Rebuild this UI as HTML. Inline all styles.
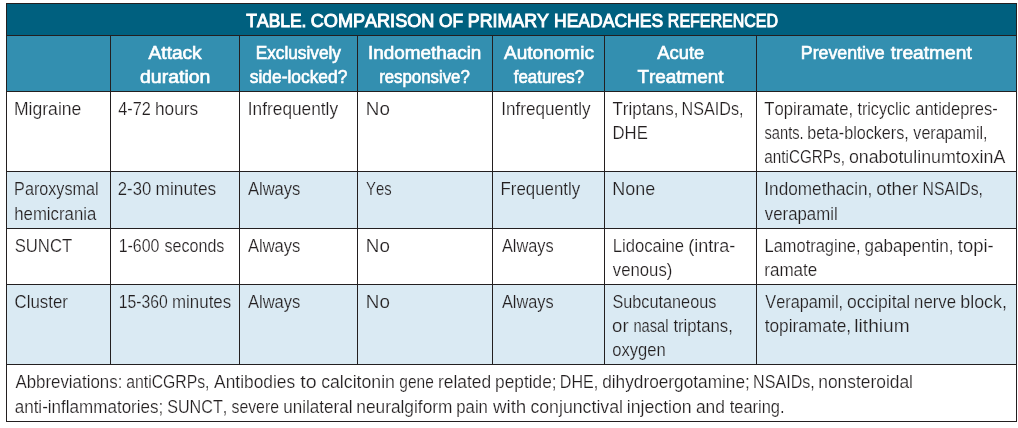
<!DOCTYPE html>
<html lang="en"><head><meta charset="utf-8"><title>Table. Comparison of primary headaches referenced</title>
<style>
html,body{margin:0;padding:0;background:#fff;}
body{width:1018px;height:428px;position:relative;overflow:hidden;font-family:"Liberation Sans",sans-serif;font-kerning:none;}
.bg{position:absolute;}
.ln{position:absolute;background:#231f20;}
.w{position:absolute;white-space:pre;transform-origin:0 0;line-height:24px;height:24px;display:block;}
.b{font-weight:bold;color:#fff;}
.s{font-weight:normal;color:#fff;-webkit-text-stroke:0.62px #fff;}
.t{font-weight:normal;color:#fff;-webkit-text-stroke:0.95px #fff;}
.r{font-weight:normal;color:#231f20;}
.ew{-webkit-text-stroke:0.2px #fff;}
.el{-webkit-text-stroke:0.2px #daeaf3;}

</style></head><body>
<div class="bg" style="left:6px;top:3px;width:1011px;height:32px;background:#00607f"></div>
<div class="bg" style="left:6px;top:35px;width:1011px;height:56px;background:#338fb0"></div>
<div class="bg" style="left:6px;top:171px;width:1011px;height:57px;background:#daeaf3"></div>
<div class="bg" style="left:6px;top:284px;width:1011px;height:80px;background:#daeaf3"></div>
<div class="ln" style="left:6px;top:3px;width:1011px;height:1px"></div>
<div class="ln" style="left:6px;top:35px;width:1011px;height:1px"></div>
<div class="ln" style="left:6px;top:91px;width:1011px;height:1px"></div>
<div class="ln" style="left:6px;top:171px;width:1011px;height:1px"></div>
<div class="ln" style="left:6px;top:228px;width:1011px;height:1px"></div>
<div class="ln" style="left:6px;top:284px;width:1011px;height:1px"></div>
<div class="ln" style="left:6px;top:364px;width:1011px;height:1px"></div>
<div class="ln" style="left:6px;top:421px;width:1011px;height:1px"></div>
<div class="ln" style="left:6px;top:3px;width:1px;height:419px"></div>
<div class="ln" style="left:110px;top:35px;width:1px;height:330px"></div>
<div class="ln" style="left:239px;top:35px;width:1px;height:330px"></div>
<div class="ln" style="left:357px;top:35px;width:1px;height:330px"></div>
<div class="ln" style="left:492px;top:35px;width:1px;height:330px"></div>
<div class="ln" style="left:604px;top:35px;width:1px;height:330px"></div>
<div class="ln" style="left:756px;top:35px;width:1px;height:330px"></div>
<div class="ln" style="left:1016px;top:3px;width:1px;height:419px"></div>
<span class="w t" style="left:246px;top:8px;font-size:18px;transform:translate(0.37px,0.50px) scaleX(0.9676)">TABLE.</span>
<span class="w t" style="left:310px;top:8px;font-size:18px;transform:translate(0.81px,0.50px) scaleX(1.0039)">COMPARISON</span>
<span class="w t" style="left:438px;top:8px;font-size:18px;transform:translate(0.94px,0.50px) scaleX(0.9642)">OF</span>
<span class="w t" style="left:467px;top:8px;font-size:18px;transform:translate(0.81px,0.50px) scaleX(0.9890)">PRIMARY</span>
<span class="w t" style="left:554px;top:8px;font-size:18px;transform:translate(0.02px,0.50px) scaleX(0.9736)">HEADACHES</span>
<span class="w t" style="left:667px;top:8px;font-size:18px;transform:translate(0.86px,0.50px) scaleX(0.8889)">REFERENCED</span>
<span class="w s" style="left:148px;top:41px;font-size:17.6px;transform:translate(0.60px,0.10px) scaleX(1.0844)">Attack</span>
<span class="w s" style="left:140px;top:64px;font-size:17.6px;transform:translate(0.03px,0.50px) scaleX(1.1068)">duration</span>
<span class="w s" style="left:255px;top:41px;font-size:17.6px;transform:translate(0.69px,0.10px) scaleX(0.9798)">Exclusively</span>
<span class="w s" style="left:249px;top:64px;font-size:17.6px;transform:translate(0.82px,0.50px) scaleX(0.9869)">side-locked?</span>
<span class="w s" style="left:367px;top:41px;font-size:17.6px;transform:translate(0.89px,0.10px) scaleX(1.0742)">Indomethacin</span>
<span class="w s" style="left:379px;top:64px;font-size:17.6px;transform:translate(0.18px,0.50px) scaleX(0.9552)">responsive?</span>
<span class="w s" style="left:504px;top:41px;font-size:17.6px;transform:translate(0.05px,0.10px) scaleX(1.0808)">Autonomic</span>
<span class="w s" style="left:513px;top:64px;font-size:17.6px;transform:translate(0.81px,0.50px) scaleX(0.9576)">features?</span>
<span class="w s" style="left:657px;top:41px;font-size:17.6px;transform:translate(0.29px,0.10px) scaleX(1.0433)">Acute</span>
<span class="w s" style="left:637px;top:64px;font-size:17.6px;transform:translate(0.51px,0.50px) scaleX(1.0735)">Treatment</span>
<span class="w s" style="left:800px;top:41px;font-size:17.6px;transform:translate(0.86px,0.10px) scaleX(1.0080)">Preventive</span>
<span class="w s" style="left:890px;top:41px;font-size:17.6px;transform:translate(0.65px,0.10px) scaleX(1.0916)">treatment</span>
<span class="w r ew" style="left:13px;top:97px;font-size:18.4px;transform:translate(0.96px,0.00px) scaleX(0.9554)">Migraine</span>
<span class="w r ew" style="left:118px;top:97px;font-size:18.4px;transform:translate(0.29px,0.00px) scaleX(0.8858)">4-72</span>
<span class="w r ew" style="left:154px;top:97px;font-size:18.4px;transform:translate(0.96px,0.00px) scaleX(0.9399)">hours</span>
<span class="w r ew" style="left:247px;top:97px;font-size:18.4px;transform:translate(0.81px,0.00px) scaleX(0.9393)">Infrequently</span>
<span class="w r ew" style="left:365px;top:97px;font-size:18.4px;transform:translate(0.86px,0.00px) scaleX(1.0219)">No</span>
<span class="w r ew" style="left:501px;top:97px;font-size:18.4px;transform:translate(0.33px,0.00px) scaleX(0.9287)">Infrequently</span>
<span class="w r ew" style="left:612px;top:97px;font-size:18.4px;transform:translate(0.53px,0.00px) scaleX(0.9198)">Triptans,</span>
<span class="w r ew" style="left:681px;top:97px;font-size:18.4px;transform:translate(0.59px,0.00px) scaleX(0.8782)">NSAIDs,</span>
<span class="w r ew" style="left:612px;top:121px;font-size:18.4px;transform:translate(0.54px,0.00px) scaleX(0.9079)">DHE</span>
<span class="w r ew" style="left:764px;top:97px;font-size:18.4px;transform:translate(0.34px,0.00px) scaleX(0.9040)">Topiramate,</span>
<span class="w r ew" style="left:857px;top:97px;font-size:18.4px;transform:translate(0.42px,0.00px) scaleX(0.8763)">tricyclic</span>
<span class="w r ew" style="left:915px;top:97px;font-size:18.4px;transform:translate(0.21px,0.00px) scaleX(0.8975)">antidepres-</span>
<span class="w r ew" style="left:764px;top:121px;font-size:18.4px;transform:translate(0.51px,0.00px) scaleX(0.7977)">sants.</span>
<span class="w r ew" style="left:807px;top:121px;font-size:18.4px;transform:translate(0.37px,0.00px) scaleX(0.8776)">beta-blockers,</span>
<span class="w r ew" style="left:913px;top:121px;font-size:18.4px;transform:translate(0.36px,0.00px) scaleX(0.8739)">verapamil,</span>
<span class="w r ew" style="left:764px;top:145px;font-size:18.4px;transform:translate(0.27px,0.25px) scaleX(0.8307)">antiCGRPs,</span>
<span class="w r ew" style="left:848px;top:145px;font-size:18.4px;transform:translate(0.91px,0.25px) scaleX(0.9682)">onabotulinumtoxinA</span>
<span class="w r el" style="left:14px;top:177px;font-size:18.4px;transform:translate(0.08px,0.00px) scaleX(0.8801)">Paroxysmal</span>
<span class="w r el" style="left:14px;top:201px;font-size:18.4px;transform:translate(0.24px,0.50px) scaleX(0.9122)">hemicrania</span>
<span class="w r el" style="left:117px;top:177px;font-size:18.4px;transform:translate(0.82px,0.00px) scaleX(0.9076)">2-30</span>
<span class="w r el" style="left:155px;top:177px;font-size:18.4px;transform:translate(0.50px,0.00px) scaleX(0.9424)">minutes</span>
<span class="w r el" style="left:247px;top:177px;font-size:18.4px;transform:translate(0.88px,0.00px) scaleX(0.9019)">Always</span>
<span class="w r el" style="left:366px;top:177px;font-size:18.4px;transform:translate(0.09px,0.00px) scaleX(0.8049)">Yes</span>
<span class="w r el" style="left:500px;top:177px;font-size:18.4px;transform:translate(0.53px,0.00px) scaleX(0.9156)">Frequently</span>
<span class="w r el" style="left:612px;top:177px;font-size:18.4px;transform:translate(0.18px,0.00px) scaleX(0.9768)">None</span>
<span class="w r el" style="left:764px;top:177px;font-size:18.4px;transform:translate(0.32px,0.00px) scaleX(0.9350)">Indomethacin,</span>
<span class="w r el" style="left:876px;top:177px;font-size:18.4px;transform:translate(0.13px,0.00px) scaleX(1.0022)">other</span>
<span class="w r el" style="left:922px;top:177px;font-size:18.4px;transform:translate(0.62px,0.00px) scaleX(0.8559)">NSAIDs,</span>
<span class="w r el" style="left:764px;top:201px;font-size:18.4px;transform:translate(0.85px,0.50px) scaleX(0.9135)">verapamil</span>
<span class="w r ew" style="left:14px;top:233px;font-size:18.4px;transform:translate(0.65px,0.75px) scaleX(0.9085)">SUNCT</span>
<span class="w r ew" style="left:118px;top:233px;font-size:18.4px;transform:translate(0.70px,0.75px) scaleX(0.8661)">1-600</span>
<span class="w r ew" style="left:164px;top:233px;font-size:18.4px;transform:translate(0.46px,0.75px) scaleX(0.8748)">seconds</span>
<span class="w r ew" style="left:247px;top:233px;font-size:18.4px;transform:translate(0.88px,0.75px) scaleX(0.9019)">Always</span>
<span class="w r ew" style="left:365px;top:233px;font-size:18.4px;transform:translate(0.86px,0.75px) scaleX(1.0219)">No</span>
<span class="w r ew" style="left:501px;top:233px;font-size:18.4px;transform:translate(0.88px,0.75px) scaleX(0.8888)">Always</span>
<span class="w r ew" style="left:612px;top:233px;font-size:18.4px;transform:translate(0.74px,0.75px) scaleX(0.9056)">Lidocaine</span>
<span class="w r ew" style="left:688px;top:233px;font-size:18.4px;transform:translate(0.28px,0.75px) scaleX(0.9806)">(intra-</span>
<span class="w r ew" style="left:612px;top:257px;font-size:18.4px;transform:translate(0.85px,0.50px) scaleX(0.9094)">venous)</span>
<span class="w r ew" style="left:764px;top:233px;font-size:18.4px;transform:translate(0.56px,0.75px) scaleX(0.8939)">Lamotragine,</span>
<span class="w r ew" style="left:864px;top:233px;font-size:18.4px;transform:translate(0.44px,0.75px) scaleX(0.9273)">gabapentin,</span>
<span class="w r ew" style="left:957px;top:233px;font-size:18.4px;transform:translate(0.87px,0.75px) scaleX(1.0001)">topi-</span>
<span class="w r ew" style="left:764px;top:257px;font-size:18.4px;transform:translate(0.27px,0.50px) scaleX(0.9268)">ramate</span>
<span class="w r el" style="left:14px;top:290px;font-size:18.4px;transform:translate(0.55px,0.00px) scaleX(0.9148)">Cluster</span>
<span class="w r el" style="left:118px;top:290px;font-size:18.4px;transform:translate(0.72px,0.00px) scaleX(0.8550)">15-360</span>
<span class="w r el" style="left:172px;top:290px;font-size:18.4px;transform:translate(0.04px,0.00px) scaleX(0.9183)">minutes</span>
<span class="w r el" style="left:247px;top:290px;font-size:18.4px;transform:translate(0.88px,0.00px) scaleX(0.9019)">Always</span>
<span class="w r el" style="left:365px;top:290px;font-size:18.4px;transform:translate(0.86px,0.00px) scaleX(1.0219)">No</span>
<span class="w r el" style="left:501px;top:290px;font-size:18.4px;transform:translate(0.88px,0.00px) scaleX(0.8888)">Always</span>
<span class="w r el" style="left:612px;top:290px;font-size:18.4px;transform:translate(0.42px,0.00px) scaleX(0.8840)">Subcutaneous</span>
<span class="w r el" style="left:612px;top:314px;font-size:18.4px;transform:translate(0.12px,0.00px) scaleX(1.0111)">or</span>
<span class="w r el" style="left:633px;top:314px;font-size:18.4px;transform:translate(0.44px,0.00px) scaleX(0.7984)">nasal</span>
<span class="w r el" style="left:673px;top:314px;font-size:18.4px;transform:translate(0.41px,0.00px) scaleX(0.9081)">triptans,</span>
<span class="w r el" style="left:612px;top:338px;font-size:18.4px;transform:translate(0.21px,0.00px) scaleX(0.9009)">oxygen</span>
<span class="w r el" style="left:765px;top:290px;font-size:18.4px;transform:translate(0.34px,0.00px) scaleX(0.8836)">Verapamil,</span>
<span class="w r el" style="left:846px;top:290px;font-size:18.4px;transform:translate(0.92px,0.00px) scaleX(0.9530)">occipital</span>
<span class="w r el" style="left:914px;top:290px;font-size:18.4px;transform:translate(0.04px,0.00px) scaleX(0.9135)">nerve</span>
<span class="w r el" style="left:960px;top:290px;font-size:18.4px;transform:translate(0.25px,0.00px) scaleX(0.9716)">block,</span>
<span class="w r el" style="left:764px;top:314px;font-size:18.4px;transform:translate(0.64px,0.00px) scaleX(0.9398)">topiramate,</span>
<span class="w r el" style="left:854px;top:314px;font-size:18.4px;transform:translate(0.36px,0.00px) scaleX(1.0393)">lithium</span>
<span class="w r ew" style="left:15px;top:370px;font-size:18.4px;transform:translate(0.38px,0.00px) scaleX(0.9177)">Abbreviations:</span>
<span class="w r ew" style="left:126px;top:370px;font-size:18.4px;transform:translate(0.24px,0.00px) scaleX(0.8571)">antiCGRPs,</span>
<span class="w r ew" style="left:214px;top:370px;font-size:18.4px;transform:translate(0.12px,0.00px) scaleX(0.9438)">Antibodies</span>
<span class="w r ew" style="left:300px;top:370px;font-size:18.4px;transform:translate(0.35px,0.00px) scaleX(1.0643)">to</span>
<span class="w r ew" style="left:321px;top:370px;font-size:18.4px;transform:translate(0.15px,0.00px) scaleX(0.9627)">calcitonin</span>
<span class="w r ew" style="left:399px;top:370px;font-size:18.4px;transform:translate(0.26px,0.00px) scaleX(0.8431)">gene</span>
<span class="w r ew" style="left:437px;top:370px;font-size:18.4px;transform:translate(1.00px,0.00px) scaleX(0.9459)">related</span>
<span class="w r ew" style="left:495px;top:370px;font-size:18.4px;transform:translate(0.04px,0.00px) scaleX(0.9409)">peptide;</span>
<span class="w r ew" style="left:559px;top:370px;font-size:18.4px;transform:translate(0.84px,0.00px) scaleX(0.8744)">DHE,</span>
<span class="w r ew" style="left:602px;top:370px;font-size:18.4px;transform:translate(0.18px,0.00px) scaleX(0.9378)">dihydroergotamine;</span>
<span class="w r ew" style="left:753px;top:370px;font-size:18.4px;transform:translate(0.09px,0.00px) scaleX(0.8745)">NSAIDs,</span>
<span class="w r ew" style="left:818px;top:370px;font-size:18.4px;transform:translate(0.25px,0.00px) scaleX(0.9452)">nonsteroidal</span>
<span class="w r ew" style="left:14px;top:395px;font-size:18.4px;transform:translate(0.68px,0.00px) scaleX(0.9262)">anti-inflammatories;</span>
<span class="w r ew" style="left:167px;top:395px;font-size:18.4px;transform:translate(0.18px,0.00px) scaleX(0.8777)">SUNCT,</span>
<span class="w r ew" style="left:231px;top:395px;font-size:18.4px;transform:translate(0.47px,0.00px) scaleX(0.8613)">severe</span>
<span class="w r ew" style="left:283px;top:395px;font-size:18.4px;transform:translate(0.30px,0.00px) scaleX(0.9265)">unilateral</span>
<span class="w r ew" style="left:356px;top:395px;font-size:18.4px;transform:translate(0.26px,0.00px) scaleX(0.9409)">neuralgiform</span>
<span class="w r ew" style="left:456px;top:395px;font-size:18.4px;transform:translate(0.33px,0.00px) scaleX(0.9082)">pain</span>
<span class="w r ew" style="left:492px;top:395px;font-size:18.4px;transform:translate(0.93px,0.00px) scaleX(1.0206)">with</span>
<span class="w r ew" style="left:530px;top:395px;font-size:18.4px;transform:translate(0.40px,0.00px) scaleX(0.9635)">conjunctival</span>
<span class="w r ew" style="left:626px;top:395px;font-size:18.4px;transform:translate(0.72px,0.00px) scaleX(0.9633)">injection</span>
<span class="w r ew" style="left:695px;top:395px;font-size:18.4px;transform:translate(0.92px,0.00px) scaleX(0.9463)">and</span>
<span class="w r ew" style="left:729px;top:395px;font-size:18.4px;transform:translate(0.66px,0.00px) scaleX(0.8951)">tearing.</span>
</body></html>
